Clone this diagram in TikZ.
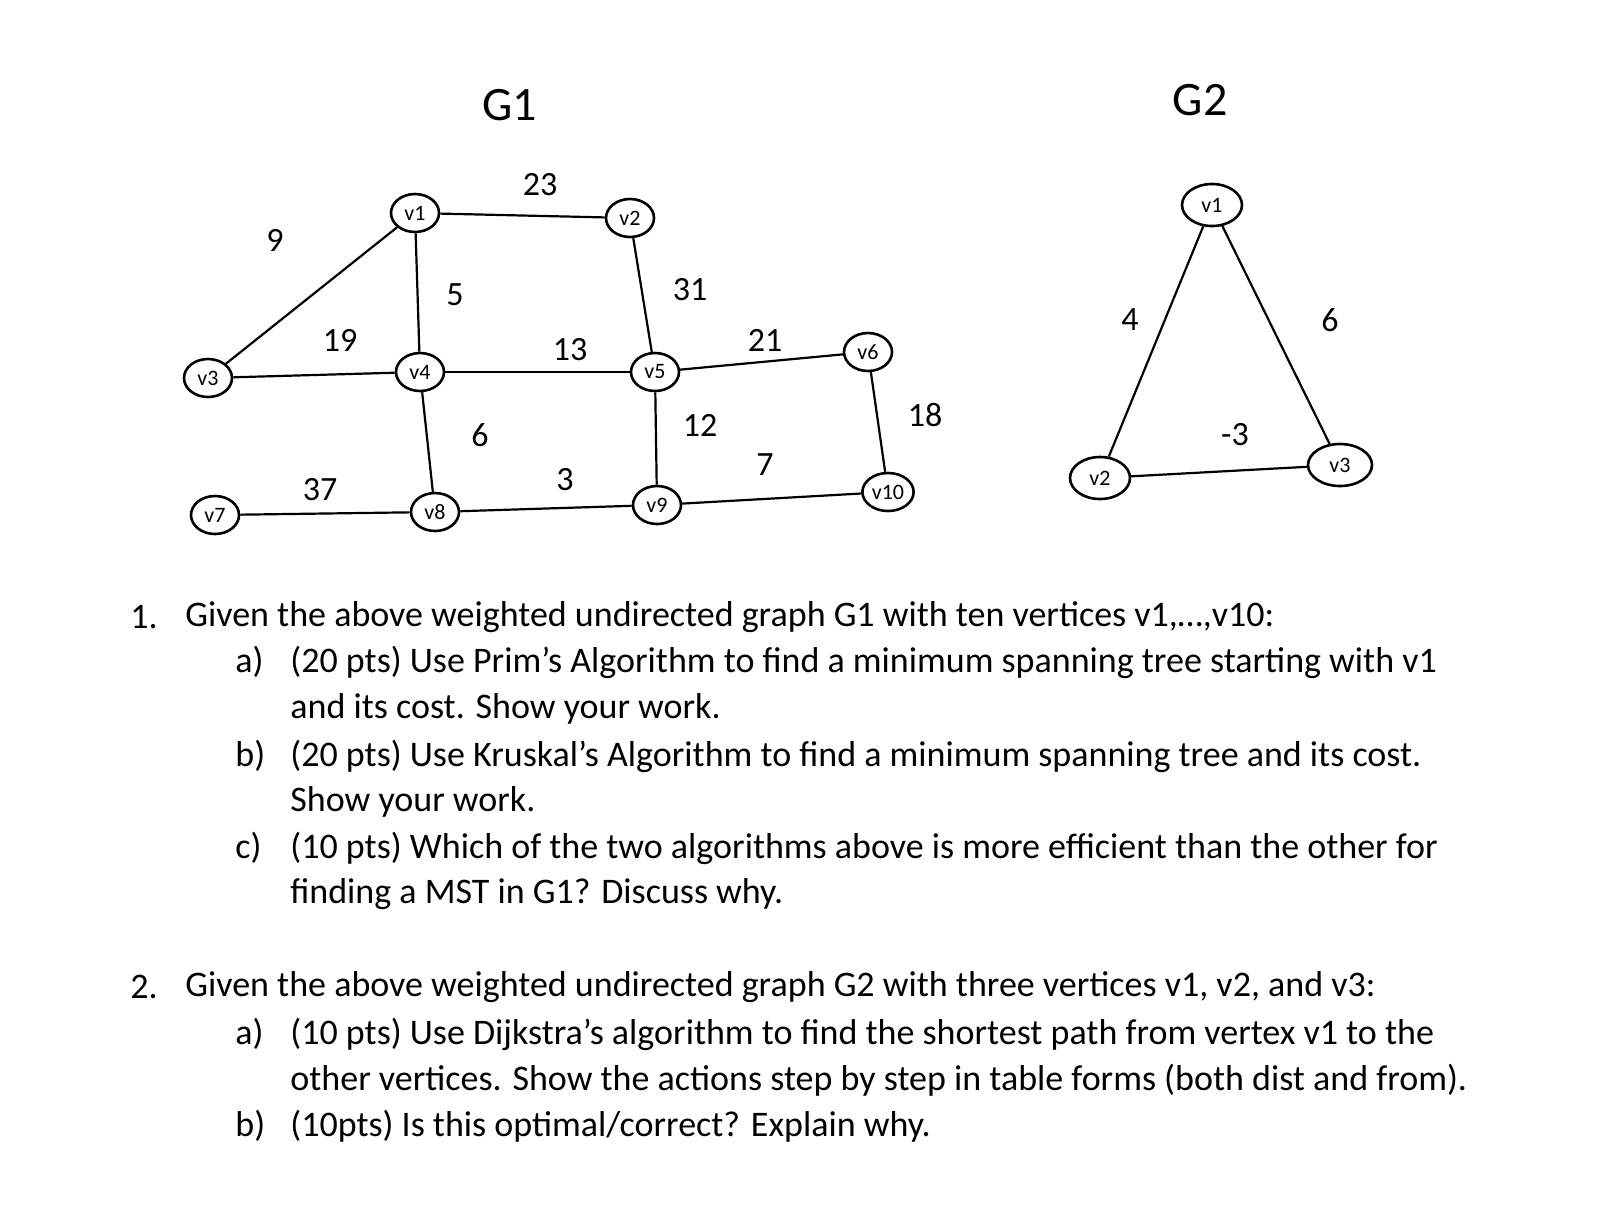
\documentclass[tikz,border=0pt]{standalone}
\usepackage{fontspec}
\setmainfont{Carlito}
\usetikzlibrary{shapes.geometric}
\begin{document}
\begin{tikzpicture}[x=0.5pt,y=-0.5pt,
 v/.style={ellipse,draw,line width=1.3pt,inner sep=1pt,minimum width=24pt,minimum height=19pt,font=\fontsize{11}{11}\selectfont},
 e/.style={line width=1.1pt},
 w/.style={font=\fontsize{17}{17}\selectfont},
 t/.style={anchor=west,font=\fontsize{18}{20}\selectfont,inner sep=0}]
\useasboundingbox (0,0) rectangle (1600,1212);
\node[v] (v1) at (415,213) {v1};
\node[v] (v2) at (630,218) {v2};
\node[v] (v3) at (208,378) {v3};
\node[v] (v4) at (420,372) {v4};
\node[v] (v5) at (655,372) {v5};
\node[v] (v6) at (868,352) {v6};
\node[v] (v7) at (215,515) {v7};
\node[v] (v8) at (435,512) {v8};
\node[v] (v9) at (657,505) {v9};
\node[v] (v10) at (888,492) {v10};
\draw[e] (v1)--(v2); \draw[e] (v1)--(v3); \draw[e] (v1)--(v4);
\draw[e] (v2)--(v5); \draw[e] (v3)--(v4); \draw[e] (v4)--(v5);
\draw[e] (v5)--(v6); \draw[e] (v4)--(v8); \draw[e] (v5)--(v9);
\draw[e] (v6)--(v10); \draw[e] (v7)--(v8); \draw[e] (v8)--(v9); \draw[e] (v9)--(v10);
\node[font=\fontsize{24}{24}\selectfont] (g1) at (510,105) {G1};
\node[w] (l23) at (540,185) {23};
\node[w] (l9) at (275,240) {9};
\node[w] (l5) at (455,295) {5};
\node[w] (l31) at (690,290) {31};
\node[w] (l19) at (340,340) {19};
\node[w] (l13) at (570,350) {13};
\node[w] (l21) at (765,340) {21};
\node[w] (l6) at (480,435) {6};
\node[w] (l12) at (700,425) {12};
\node[w] (l18) at (925,415) {18};
\node[w] (l3) at (565,480) {3};
\node[w] (l7) at (765,465) {7};
\node[w] (l37) at (320,490) {37};
\node[v,minimum width=30pt,minimum height=21pt] (u1) at (1212,205) {v1};
\node[v,minimum width=30pt,minimum height=21pt] (u2) at (1100,478) {v2};
\node[v,minimum width=32pt,minimum height=21pt] (u3) at (1340,465) {v3};
\draw[e] (u1)--(u2); \draw[e] (u1)--(u3); \draw[e] (u2)--(u3);
\node[font=\fontsize{24}{24}\selectfont] (g2) at (1200,100) {G2};
\node[w] (m4) at (1130,320) {4};
\node[w] (m6) at (1330,320) {6};
\node[w] (m3) at (1235,435) {-3};
\begin{scope}[yshift=-6pt]
\node[t] at (130,605) {1.};
\node[t] at (185,605) {Given the above weighted undirected graph G1 with ten vertices v1,…,v10:};
\node[t] at (235,650) {a)};
\node[t] at (290,650) {(20 pts) Use Prim’s Algorithm to find a minimum spanning tree starting with v1};
\node[t] at (290,697) {and its cost. Show your work.};
\node[t] at (235,744) {b)};
\node[t] at (290,744) {(20 pts) Use Kruskal’s Algorithm to find a minimum spanning tree and its cost.};
\node[t] at (290,790) {Show your work.};
\node[t] at (235,836) {c)};
\node[t] at (290,836) {(10 pts) Which of the two algorithms above is more efficient than the other for};
\node[t] at (290,882) {finding a MST in G1? Discuss why.};
\node[t] at (130,975) {2.};
\node[t] at (185,975) {Given the above weighted undirected graph G2 with three vertices v1, v2, and v3:};
\node[t] at (235,1022) {a)};
\node[t] at (290,1022) {(10 pts) Use Dijkstra’s algorithm to find the shortest path from vertex v1 to the};
\node[t] at (290,1068) {other vertices. Show the actions step by step in table forms (both dist and from).};
\node[t] at (235,1114) {b)};
\node[t] at (290,1114) {(10pts) Is this optimal/correct? Explain why.};
\end{scope}
\end{tikzpicture}
\end{document}
